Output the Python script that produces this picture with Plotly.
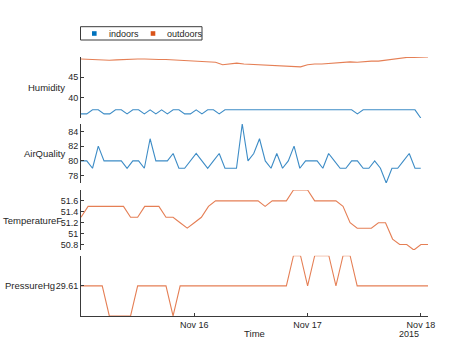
import pandas as pd
import plotly.graph_objects as go

# ---------------- data ----------------
indoor_start = "2015-11-15 00:00:24"
indoor_humidity = [36, 36, 37, 37, 36, 36, 37, 37, 36, 37,
                   37, 36, 37, 36, 37, 36, 37, 37, 36, 36,
                   37, 36, 37, 37, 36, 37, 37, 37, 37, 37,
                   37, 37, 37, 37, 37, 37, 37, 37, 37, 37,
                   37, 37, 37, 37, 37, 37, 37, 37, 36, 37,
                   37, 37, 37, 37, 37, 37, 37, 37, 37, 35]
indoor_airquality = [80, 80, 79, 82, 80, 80, 80, 80, 79, 80,
                     80, 79, 83, 80, 80, 80, 81, 79, 79, 80,
                     81, 80, 79, 80, 81, 79, 79, 79, 85, 80,
                     81, 83, 80, 79, 81, 79, 80, 82, 79, 80,
                     80, 80, 79, 81, 80, 79, 79, 80, 80, 79,
                     79, 80, 79, 77, 79, 79, 80, 81, 79, 79]

outdoor_start = "2015-11-15 00:00:24"
outdoor_humidity = [49.4, 49.3, 49.2, 49.2, 49.1, 49.2, 49.3, 49.4, 49.4, 49.4,
                    49.3, 49.3, 49.3, 49.2, 49.2, 49.1, 49.0, 48.9, 48.7, 48.6,
                    48.0, 48.2, 48.4, 48.2, 48.1, 48.0, 48.0, 47.8, 47.8, 47.7,
                    47.6, 47.5, 48.0, 48.2, 48.2, 48.3, 48.4, 48.5, 48.7, 48.6,
                    48.8, 48.9, 48.9, 49.1, 49.3, 49.6, 49.8, 49.8, 49.9, 49.9]
outdoor_temperature = [51.3, 51.5, 51.5, 51.5, 51.5, 51.5, 51.5, 51.3, 51.3, 51.5,
                       51.5, 51.5, 51.3, 51.3, 51.2, 51.1, 51.2, 51.3, 51.5, 51.6,
                       51.6, 51.6, 51.6, 51.6, 51.6, 51.6, 51.5, 51.6, 51.6, 51.6,
                       51.8, 51.8, 51.8, 51.6, 51.6, 51.6, 51.6, 51.5, 51.2, 51.1,
                       51.1, 51.1, 51.2, 51.2, 50.9, 50.8, 50.8, 50.7, 50.8, 50.8]
outdoor_pressure = [29.61, 29.61, 29.61, 29.61, 29.60, 29.60, 29.60, 29.60, 29.61, 29.61,
                    29.61, 29.61, 29.61, 29.60, 29.61, 29.61, 29.61, 29.61, 29.61, 29.61,
                    29.61, 29.61, 29.61, 29.61, 29.61, 29.61, 29.61, 29.61, 29.61, 29.61,
                    29.62, 29.62, 29.61, 29.62, 29.62, 29.62, 29.61, 29.62, 29.62, 29.61,
                    29.61, 29.61, 29.61, 29.61, 29.61, 29.61, 29.61, 29.61, 29.61, 29.61]

series_names = ["indoors", "outdoors"]
panel_labels = ["Humidity", "AirQuality", "TemperatureF", "PressureHg"]
x_tick_vals = ["2015-11-16", "2015-11-17", "2015-11-18"]
x_tick_text = ["Nov 16", "Nov 17", "Nov 18"]
year_label = "2015"
hum_ticks = [40, 45]
air_ticks = [78, 80, 82, 84]
temp_ticks = [50.8, 51, 51.2, 51.4, 51.6]
temp_tick_text = ["50.8", "51", "51.2", "51.4", "51.6"]
pres_ticks = [29.61]
pres_tick_text = ["29.61"]

indoor_time = pd.date_range(indoor_start, periods=len(indoor_humidity), freq="4391s")
outdoor_time = pd.date_range(outdoor_start, periods=len(outdoor_humidity), freq="90min")

# ---------------- style ----------------
W, H = 474, 355
L, R, T, B = 81, 46, 57, 39
PW, PH = W - L - R, H - T - B
FONT = "Liberation Sans, Arial, Helvetica, sans-serif"
TXT = "#262626"
AX = "#3a3a3a"
BLUE_LINE, ORANGE_LINE = "#3d8cc6", "#e57f55"
BLUE, ORANGE = "#0072BD", "#D95319"

def py(pix):  # pixel y -> paper y
    return (H - B - pix) / PH

def px(pix):
    return (pix - L) / PW

panels = [(57, 118), (124, 183), (190, 250), (255.7, 316)]
domains = [[py(b), py(t)] for t, b in panels]

fig = go.Figure()
line_kw = dict(mode="lines", showlegend=False, hoverinfo="x+y")
fig.add_trace(go.Scatter(x=outdoor_time, y=outdoor_humidity, line=dict(color=ORANGE_LINE, width=1.1),
                         name=series_names[1], yaxis="y", **line_kw))
fig.add_trace(go.Scatter(x=indoor_time, y=indoor_humidity, line=dict(color=BLUE_LINE, width=1.1),
                         name=series_names[0], yaxis="y", **line_kw))
fig.add_trace(go.Scatter(x=indoor_time, y=indoor_airquality, line=dict(color=BLUE_LINE, width=1.1),
                         name=series_names[0], yaxis="y2", **line_kw))
fig.add_trace(go.Scatter(x=outdoor_time, y=outdoor_temperature, line=dict(color=ORANGE_LINE, width=1.1),
                         name=series_names[1], yaxis="y3", **line_kw))
fig.add_trace(go.Scatter(x=outdoor_time, y=outdoor_pressure, line=dict(color=ORANGE_LINE, width=1.1),
                         name=series_names[1], yaxis="y4", **line_kw))

hum_all = indoor_humidity + outdoor_humidity
yaxis_common = dict(showgrid=False, zeroline=False, showline=True, linecolor=AX, linewidth=1,
                    ticks="inside", ticklen=3, tickcolor=AX, tickfont=dict(size=9, color=TXT, family=FONT),
                    anchor="x", fixedrange=True)

fig.update_layout(
    width=W, height=H,
    margin=dict(l=L, r=R, t=T, b=B, autoexpand=False),
    paper_bgcolor="white", plot_bgcolor="white",
    font=dict(family=FONT, size=9, color=TXT),
    showlegend=False,
    xaxis=dict(range=[outdoor_time[0], outdoor_time[-1]], showgrid=False, zeroline=False,
               showline=True, linecolor=AX, linewidth=1, ticks="inside", ticklen=3, tickcolor=AX,
               tickvals=x_tick_vals, ticktext=x_tick_text, tickfont=dict(size=9, color=TXT),
               title=dict(text="Time", standoff=1, font=dict(size=9.5, color=TXT)),
               anchor="y4", automargin=False),
    yaxis=dict(domain=domains[0], range=[min(hum_all), max(hum_all)], tickvals=hum_ticks, **yaxis_common),
    yaxis2=dict(domain=domains[1], range=[min(indoor_airquality), max(indoor_airquality)],
                tickvals=air_ticks, **yaxis_common),
    yaxis3=dict(domain=domains[2], range=[min(outdoor_temperature), max(outdoor_temperature)],
                tickvals=temp_ticks, ticktext=temp_tick_text, **yaxis_common),
    yaxis4=dict(domain=domains[3], range=[min(outdoor_pressure), max(outdoor_pressure)],
                tickvals=pres_ticks, ticktext=pres_tick_text, **yaxis_common),
)

# panel labels
label_shift = [-14, -14, -17, -24]
yrefs = ["y domain", "y2 domain", "y3 domain", "y4 domain"]
for lab, sh, yr in zip(panel_labels, label_shift, yrefs):
    fig.add_annotation(text=lab, xref="paper", x=0, xanchor="right", xshift=sh,
                       yref=yr, y=0.5, yanchor="middle", showarrow=False,
                       font=dict(size=9.5, color=TXT, family=FONT))

# year label under last tick
fig.add_annotation(text=year_label, xref="x", x=x_tick_vals[-1], xanchor="right", xshift=0,
                   yref="paper", y=py(334), yanchor="middle", showarrow=False,
                   font=dict(size=9, color=TXT, family=FONT))

# legend (box, swatches, text)
fig.add_shape(type="rect", xref="paper", yref="paper", x0=px(80.5), x1=px(202), y0=py(40), y1=py(26.7),
              line=dict(color=AX, width=1), fillcolor="white", layer="above")
for cx, col, tx, name in [(94.3, BLUE, 106.5, series_names[0]), (153, ORANGE, 165, series_names[1])]:
    fig.add_shape(type="rect", xref="paper", yref="paper", x0=px(cx - 2.3), x1=px(cx + 2.3),
                  y0=py(33.5 + 2.3), y1=py(33.5 - 2.3), line=dict(width=0), fillcolor=col, layer="above")
    fig.add_annotation(text=name, xref="paper", x=px(tx), xanchor="left", yref="paper", y=py(33.5),
                       yanchor="middle", showarrow=False, font=dict(size=9, color=TXT, family=FONT))

fig.write_html("out.html", config={"displayModeBar": False},
               post_script="document.body.style.margin='0';document.body.style.padding='0';")
